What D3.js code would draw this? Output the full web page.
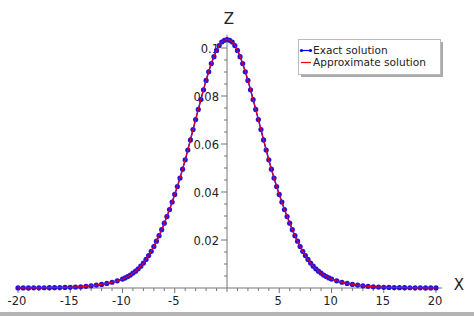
<!DOCTYPE html>
<html>
<head>
<meta charset="utf-8">
<script src="https://cdn.jsdelivr.net/npm/d3@7"></script>
<style>
  body { margin: 0; background: #fff; }
  text { font-family: "DejaVu Sans", sans-serif; fill: #222; }
</style>
</head>
<body>
<div id="chart"></div>
<script>
// values
const xExact = [-20, -19.5, -19, -18.5, -18, -17.5, -17, -16.5, -16, -15.5, -15, -14.5, -14, -13.5, -13, -12.5, -12, -11.5, -11, -10.5,
  -10, -9.75, -9.5, -9.25, -9, -8.75, -8.5, -8.25, -8, -7.75, -7.5, -7.25, -7, -6.75, -6.5, -6.25, -6, -5.75, -5.5, -5.25,
  -5, -4.75, -4.5, -4.25, -4, -3.75, -3.5, -3.25, -3, -2.75, -2.5, -2.25, -2, -1.75, -1.5, -1.25, -1, -0.75, -0.5, -0.25,
  0,
  0.25, 0.5, 0.75, 1, 1.25, 1.5, 1.75, 2, 2.25, 2.5, 2.75, 3, 3.25, 3.5, 3.75, 4, 4.25, 4.5, 4.75, 5,
  5.25, 5.5, 5.75, 6, 6.25, 6.5, 6.75, 7, 7.25, 7.5, 7.75, 8, 8.25, 8.5, 8.75, 9, 9.25, 9.5, 9.75, 10,
  10.5, 11, 11.5, 12, 12.5, 13, 13.5, 14, 14.5, 15, 15.5, 16, 16.5, 17, 17.5, 18, 18.5, 19, 19.5, 20];
const zExact = [0.00003, 0.00004, 0.00005, 0.00006, 0.00008, 0.0001, 0.00012, 0.00015, 0.0002, 0.00025, 0.0003, 0.0004, 0.0005, 0.0007, 0.0009, 0.0012, 0.0015, 0.0019, 0.0024, 0.0030,
  0.0037, 0.0042, 0.0048, 0.0054, 0.0062, 0.0070, 0.0080, 0.0091, 0.0104, 0.0119, 0.0135, 0.0153, 0.0173, 0.0195, 0.0218, 0.0243, 0.0270, 0.0298, 0.0327, 0.0358,
  0.0390, 0.0423, 0.0458, 0.0495, 0.0534, 0.0575, 0.0617, 0.0660, 0.0702, 0.0744, 0.0785, 0.0826, 0.0865, 0.0901, 0.0935, 0.0964, 0.0990, 0.1010, 0.1025, 0.1032,
  0.1035,
  0.1032, 0.1025, 0.1010, 0.0990, 0.0964, 0.0935, 0.0901, 0.0865, 0.0826, 0.0785, 0.0744, 0.0702, 0.0660, 0.0617, 0.0575, 0.0534, 0.0495, 0.0458, 0.0423, 0.0390,
  0.0358, 0.0327, 0.0298, 0.0270, 0.0243, 0.0218, 0.0195, 0.0173, 0.0153, 0.0135, 0.0119, 0.0104, 0.0091, 0.0080, 0.0070, 0.0062, 0.0054, 0.0048, 0.0042, 0.0037,
  0.0030, 0.0024, 0.0019, 0.0015, 0.0012, 0.0009, 0.0007, 0.0005, 0.0004, 0.0003, 0.00025, 0.0002, 0.00015, 0.00012, 0.0001, 0.00008, 0.00006, 0.00005, 0.00004, 0.00003];
const xApprox = [-20, -18, -16, -15, -14, -13, -12, -11, -10, -9, -8, -7.5, -7, -6.5, -6, -5.5, -5, -4.5, -4, -3.5, -3, -2.5, -2, -1.5, -1, -0.5,
  0, 0.5, 1, 1.5, 2, 2.5, 3, 3.5, 4, 4.5, 5, 5.5, 6, 6.5, 7, 7.5, 8, 9, 10, 11, 12, 13, 14, 15, 16, 18, 20];
const zApprox = [0.00003, 0.00008, 0.0002, 0.0003, 0.0005, 0.0009, 0.0015, 0.0024, 0.0037, 0.0062, 0.0104, 0.0135, 0.0173, 0.0218, 0.0270, 0.0327, 0.0390, 0.0458, 0.0534, 0.0617, 0.0702, 0.0785, 0.0865, 0.0935, 0.0990, 0.1025,
  0.1035, 0.1025, 0.0990, 0.0935, 0.0865, 0.0785, 0.0702, 0.0617, 0.0534, 0.0458, 0.0390, 0.0327, 0.0270, 0.0218, 0.0173, 0.0135, 0.0104, 0.0062, 0.0037, 0.0024, 0.0015, 0.0009, 0.0005, 0.0003, 0.0002, 0.00008, 0.00003];
const xTicks = [-20, -15, -10, -5, 5, 10, 15, 20];
const zTicks = [0.02, 0.04, 0.06, 0.08, 0.1];
const zTickLabels = ["0.02", "0.04", "0.06", "0.08", "0.1"];
const seriesNames = ["Exact solution", "Approximate solution"];

const width = 474, height = 316;

const svg = d3.select("#chart").append("svg")
  .attr("width", width)
  .attr("height", height);

const x = d3.scaleLinear().domain([-20, 20]).range([18, 436]);
const y = d3.scaleLinear().domain([0, 0.1]).range([288, 48]);

// axis lines
svg.append("line")
  .attr("x1", x(-20.2)).attr("x2", x(20.6))
  .attr("y1", y(0)).attr("y2", y(0))
  .attr("stroke", "#777").attr("stroke-width", 1);
svg.append("line")
  .attr("x1", x(0)).attr("x2", x(0))
  .attr("y1", y(0.1055)).attr("y2", y(0) + 4)
  .attr("stroke", "#777").attr("stroke-width", 1);

// x ticks
const xMinor = d3.range(-20, 21, 1).filter(d => d !== 0 && d % 5 !== 0);
svg.append("g").selectAll("line").data(xMinor).enter().append("line")
  .attr("x1", d => x(d)).attr("x2", d => x(d))
  .attr("y1", y(0)).attr("y2", y(0) + 3)
  .attr("stroke", "#777");
svg.append("g").selectAll("line").data(xTicks).enter().append("line")
  .attr("x1", d => x(d)).attr("x2", d => x(d))
  .attr("y1", y(0)).attr("y2", y(0) + 5)
  .attr("stroke", "#777");
svg.append("g").selectAll("text").data(xTicks).enter().append("text")
  .attr("x", d => x(d) - 1)
  .attr("y", 305)
  .attr("text-anchor", "middle")
  .style("font-size", "11.5px")
  .text(d => d);

// z ticks
const zMinor = d3.range(1, 21).map(i => i * 0.005).filter((d, i) => (i + 1) % 4 !== 0);
svg.append("g").selectAll("line").data(zMinor).enter().append("line")
  .attr("x1", x(0) - 3).attr("x2", x(0))
  .attr("y1", d => y(d)).attr("y2", d => y(d))
  .attr("stroke", "#777");
svg.append("g").selectAll("line").data(zTicks).enter().append("line")
  .attr("x1", x(0) - 6).attr("x2", x(0))
  .attr("y1", d => y(d)).attr("y2", d => y(d))
  .attr("stroke", "#777");
svg.append("g").selectAll("text").data(zTicks).enter().append("text")
  .attr("x", x(0) - 8)
  .attr("y", d => y(d) + 4.5)
  .attr("text-anchor", "end")
  .style("font-size", "11.5px")
  .text((d, i) => zTickLabels[i]);

// axis labels
svg.append("text").attr("x", 229).attr("y", 24)
  .attr("text-anchor", "middle").style("font-size", "15px").text("Z");
svg.append("text").attr("x", 459).attr("y", 290)
  .attr("text-anchor", "middle").style("font-size", "15px").text("X");

// series
const exact = xExact.map((d, i) => [d, zExact[i]]);
const approx = xApprox.map((d, i) => [d, zApprox[i]]);
const line = d3.line().x(d => x(d[0])).y(d => y(d[1])).curve(d3.curveMonotoneX);

svg.append("path").datum(exact)
  .attr("d", line).attr("fill", "none")
  .attr("stroke", "#0000ff").attr("stroke-width", 1.5);
svg.append("g").selectAll("circle").data(exact).enter().append("circle")
  .attr("cx", d => x(d[0])).attr("cy", d => y(d[1]))
  .attr("r", 2.6).attr("fill", "#2a10d8");
svg.append("path").datum(approx)
  .attr("d", line).attr("fill", "none")
  .attr("stroke", "#ff0000").attr("stroke-width", 1);

// legend
const lg = svg.append("g");
lg.append("rect").attr("x", 301).attr("y", 42).attr("width", 142).attr("height", 35)
  .attr("fill", "#aaa");
lg.append("rect").attr("x", 298.5).attr("y", 39.5).attr("width", 142).attr("height", 35)
  .attr("fill", "#fff").attr("stroke", "#bbb");
lg.append("line").attr("x1", 301).attr("x2", 311).attr("y1", 50.5).attr("y2", 50.5)
  .attr("stroke", "#0000ff").attr("stroke-width", 1.2);
lg.selectAll("circle").data([301.5, 310.5]).enter().append("circle")
  .attr("cx", d => d).attr("cy", 50.5).attr("r", 1.6).attr("fill", "#0000ff");
lg.append("line").attr("x1", 301).attr("x2", 311).attr("y1", 62.5).attr("y2", 62.5)
  .attr("stroke", "#ff0000").attr("stroke-width", 1.2);
lg.selectAll("text").data(seriesNames).enter().append("text")
  .attr("x", 313).attr("y", (d, i) => 54 + i * 12)
  .style("font-size", "10.6px")
  .text(d => d);

// bottom strip
svg.append("rect").attr("x", 0).attr("y", 312).attr("width", width).attr("height", 4)
  .attr("fill", "#b4b4b4");
</script>
</body>
</html>
